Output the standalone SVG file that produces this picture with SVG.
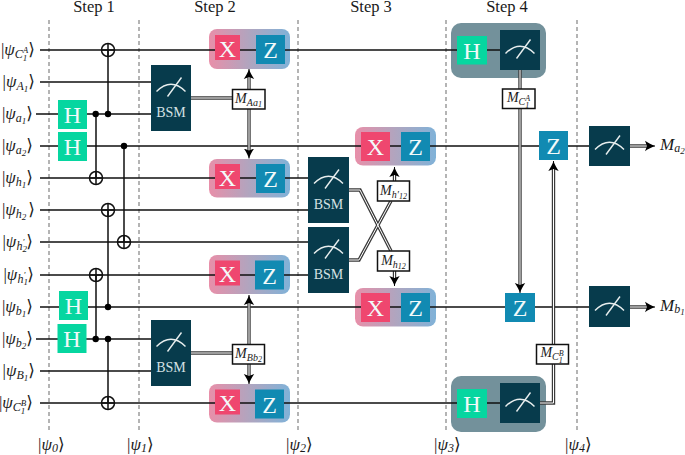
<svg xmlns="http://www.w3.org/2000/svg" width="685" height="455" viewBox="0 0 685 455">
<style>
text{font-family:"Liberation Serif","DejaVu Serif",serif;fill:#1a1a1a}
.st{font-size:16.5px;text-anchor:middle}
.k{font-size:17px;text-anchor:end}
.k0{font-size:17px;text-anchor:start}
.i{font-style:italic}
.s{font-size:12px;font-style:italic}
.ss{font-size:9px;font-style:italic}
.m{font-size:14px;font-style:italic;text-anchor:middle}
.m .s{font-size:10px}
.m .ss{font-size:8px}
.big{font-size:17px;font-style:italic}
.g{font-size:24px;text-anchor:middle;fill:#f2fafa}
.b{font-size:14px;text-anchor:middle;fill:#d5e2e4}
.w{stroke:#111;stroke-width:1.5;fill:none}
.dash{stroke:#777;stroke-width:1.1;stroke-dasharray:4 3;fill:none}
.c1{stroke:#3a3a3a;stroke-width:3.4;fill:none}
.c2{stroke:#fff;stroke-width:1;fill:none}
.tip{stroke:#111;stroke-width:1;fill:none;marker-end:url(#arrow)}
.X{fill:#ef476f}.Z{fill:#118ab2}.H{fill:#06d6a0}.D{fill:#073b4c}
.mb{fill:#fff;stroke:#111;stroke-width:1.5}
.pan{fill:url(#pg)}
.pan4{fill:#73919b}
.ctrl{fill:#000}
.icon{fill:none;stroke:#e8eeee;stroke-width:1.4}
.cn{fill:none;stroke:#111;stroke-width:1.5}
</style>
<defs>
<linearGradient id="pg"><stop offset="0" stop-color="#e88fa9"/><stop offset="0.5" stop-color="#b0a5bf"/><stop offset="1" stop-color="#80b2d8"/></linearGradient>
<marker id="arrow" viewBox="0 -6 11 12" refX="10" refY="0" markerWidth="11" markerHeight="12" markerUnits="userSpaceOnUse" orient="auto"><path d="M10,0C7,1 3,3 0,5.2L2,0L0,-5.2C3,-3 7,-1 10,0Z" fill="#000"/></marker>
<g id="meter" class="icon"><path d="M-14.5,3.5Q0,-11 14.5,3.5"/><path d="M-3.5,8.5L10.5,-10.5"/></g>
<g id="cnot" class="cn"><circle r="6.5"/><path d="M-6.5,0H6.5M0,-6.5V6.5"/></g>
</defs>

<g id="panels">
<rect class="pan" x="209" y="29" width="81" height="40" rx="8"/>
<rect class="pan" x="209" y="159" width="81" height="38.500" rx="8"/>
<rect class="pan" x="209" y="255" width="81" height="39" rx="8"/>
<rect class="pan" x="209" y="384" width="81" height="38.500" rx="8"/>
<rect class="pan" x="355" y="127" width="81" height="38.500" rx="8"/>
<rect class="pan" x="355" y="288" width="81" height="38.500" rx="8"/>
<rect class="pan4" x="451" y="23" width="95" height="55" rx="10"/>
<rect class="pan4" x="451" y="376" width="95" height="56" rx="10"/>
</g>

<g id="steps">
<path class="dash" d="M49,20V432M139,20V432M298,20V432M446,20V432M577,20V432"/>
</g>

<g id="connectors">
<path class="w" d="M40,50H500M40,82H151M36,114H151M40,146H589M40,178H308M40,210H308M40,242H308M40,275H308M40,307H589M36,339H151M40,371H151M40,403H500"/>
<path class="w" d="M108,50V114M96,114V178M124,146V242M108,210V307M96,275V339M108,339V403"/>
<g id="classical">
<path class="c1" d="M191,98H232M249,109V152M249,89V76"/>
<path class="c2" d="M191,98H232M249,109V152M249,89V76"/>
<path class="c1" d="M191,353H232M249,364V378M249,344V301"/>
<path class="c2" d="M191,353H232M249,364V378M249,344V301"/>
<path class="c1" d="M349,190H360L391,251M349,260H359L391,201M394.500,181V174M394.500,271V279"/>
<path class="c2" d="M349,190H360L391,251M349,260H359L391,201M394.500,181V174M394.500,271V279"/>
<path class="c1" d="M520,70V89M520,108V286"/>
<path class="c2" d="M520,70V89M520,108V286"/>
<path class="c1" d="M540,403H553.500V364M553.500,344V167"/>
<path class="c2" d="M540,403H553.500V364M553.500,344V167"/>
<path class="c1" d="M630,146H650M630,307H650"/>
<path class="c2" d="M630,146H650M630,307H650"/>
<path class="tip" d="M249,74V69"/>
<path class="tip" d="M249,153V158.500"/>
<path class="tip" d="M249,300V295"/>
<path class="tip" d="M249,378V384"/>
<path class="tip" d="M394.500,173V167"/>
<path class="tip" d="M394.500,280V286"/>
<path class="tip" d="M520,286V293"/>
<path class="tip" d="M553.500,167V161"/>
<path class="tip" d="M649,146H655"/>
<path class="tip" d="M649,307H655"/>
</g>
<g id="controls" class="ctrl">
<circle cx="95.700" cy="114" r="3.200"/><circle cx="108" cy="114" r="3.200"/><circle cx="124" cy="146" r="3.200"/>
<circle cx="108" cy="307" r="3.200"/><circle cx="95.700" cy="339" r="3.200"/><circle cx="108" cy="339" r="3.200"/>
</g>
<g id="targets">
<use href="#cnot" x="108" y="50"/><use href="#cnot" x="96" y="178"/><use href="#cnot" x="108" y="210"/>
<use href="#cnot" x="124" y="242"/><use href="#cnot" x="96" y="275"/><use href="#cnot" x="108" y="403"/>
</g>
</g>

<g id="H1"><rect class="H" x="58" y="100" width="29" height="29"/><text class="g" x="72.500" y="123">H</text></g>
<g id="H2"><rect class="H" x="58" y="132" width="29" height="29"/><text class="g" x="72.500" y="155">H</text></g>
<g id="H3"><rect class="H" x="59" y="291" width="29" height="29"/><text class="g" x="73.500" y="314">H</text></g>
<g id="H4"><rect class="H" x="57.500" y="324" width="29" height="29"/><text class="g" x="72" y="347">H</text></g>

<g id="BSM1"><rect class="D" x="151" y="65" width="40" height="66"/><use href="#meter" x="171" y="88"/><text class="b" x="171" y="117">BSM</text></g>
<g id="BSM2"><rect class="D" x="151" y="320" width="40" height="66"/><use href="#meter" x="171" y="343"/><text class="b" x="171" y="372">BSM</text></g>
<g id="BSM3"><rect class="D" x="308" y="157" width="41" height="66"/><use href="#meter" x="328.500" y="180"/><text class="b" x="328.500" y="209">BSM</text></g>
<g id="BSM4"><rect class="D" x="308" y="227" width="41" height="66"/><use href="#meter" x="328.500" y="250"/><text class="b" x="328.500" y="279">BSM</text></g>

<g id="X1"><rect class="X" x="215" y="35" width="25" height="25"/><text class="g" x="227.500" y="56.500">X</text></g>
<g id="Z1"><rect class="Z" x="256" y="35" width="29" height="29"/><text class="g" x="270.500" y="58">Z</text></g>
<g id="X2"><rect class="X" x="215" y="164" width="25" height="25"/><text class="g" x="227.500" y="185.500">X</text></g>
<g id="Z2"><rect class="Z" x="256" y="164" width="29" height="29"/><text class="g" x="270.500" y="187">Z</text></g>
<g id="X3"><rect class="X" x="215" y="260.500" width="25" height="25"/><text class="g" x="227.500" y="282">X</text></g>
<g id="Z3"><rect class="Z" x="255" y="260.500" width="29" height="29"/><text class="g" x="269.500" y="283.500">Z</text></g>
<g id="X4"><rect class="X" x="215" y="389.500" width="25" height="25"/><text class="g" x="227.500" y="411">X</text></g>
<g id="Z4"><rect class="Z" x="255" y="389.500" width="29" height="29"/><text class="g" x="269.500" y="412.500">Z</text></g>
<g id="X5"><rect class="X" x="361" y="132" width="29" height="29"/><text class="g" x="375.500" y="155">X</text></g>
<g id="Z5"><rect class="Z" x="401" y="132" width="29" height="29"/><text class="g" x="415.500" y="155">Z</text></g>
<g id="X6"><rect class="X" x="361" y="293" width="29" height="29"/><text class="g" x="375.500" y="316">X</text></g>
<g id="Z6"><rect class="Z" x="401" y="293" width="29" height="29"/><text class="g" x="415.500" y="316">Z</text></g>

<g id="H5"><rect class="H" x="457" y="36" width="30" height="28.500"/><text class="g" x="472" y="59">H</text></g>
<g id="M1"><rect class="D" x="500" y="30" width="40" height="40"/><use href="#meter" x="520" y="50"/></g>
<g id="H6"><rect class="H" x="457" y="389" width="30" height="29"/><text class="g" x="472" y="412">H</text></g>
<g id="M2"><rect class="D" x="500" y="383" width="40" height="40"/><use href="#meter" x="520" y="403"/></g>
<g id="Z7"><rect class="Z" x="539" y="131" width="29" height="29"/><text class="g" x="553.500" y="154">Z</text></g>
<g id="Z8"><rect class="Z" x="505" y="293" width="30" height="29"/><text class="g" x="520" y="316">Z</text></g>
<g id="M3"><rect class="D" x="589" y="126" width="41" height="40"/><use href="#meter" x="609.500" y="146"/></g>
<g id="M4"><rect class="D" x="589" y="286" width="41" height="41"/><use href="#meter" x="609.500" y="307"/></g>

<g id="mAa"><rect class="mb" x="232.500" y="89.500" width="32.500" height="19.500"/><text class="m" x="248.500" y="103">M<tspan class="s" dy="2.500">Aa</tspan><tspan class="ss" dy="1.500">1</tspan></text></g>
<g id="mBb"><rect class="mb" x="232.500" y="344.500" width="32" height="19.500"/><text class="m" x="248.500" y="358">M<tspan class="s" dy="2.500">Bb</tspan><tspan class="ss" dy="1.500">2</tspan></text></g>
<g id="mh2"><rect class="mb" x="377.500" y="181" width="32" height="20"/><text class="m" x="393.500" y="195">M<tspan class="s" dy="2.500">h′</tspan><tspan class="ss" dy="1.500">12</tspan></text></g>
<g id="mh1"><rect class="mb" x="377.500" y="251" width="32" height="20"/><text class="m" x="393.500" y="265">M<tspan class="s" dy="2.500">h</tspan><tspan class="ss" dy="1.500">12</tspan></text></g>
<g id="mCA"><rect class="mb" x="502.500" y="89" width="32.500" height="19.500"/><text class="m" x="518.500" y="102">M<tspan class="s" dy="2.500">C</tspan><tspan class="ss" dy="3">1</tspan><tspan class="ss" dx="-4" dy="-7">A</tspan></text></g>
<g id="mCB"><rect class="mb" x="536.500" y="344.500" width="32" height="19.500"/><text class="m" x="552" y="357">M<tspan class="s" dy="2.500">C</tspan><tspan class="ss" dy="3">1</tspan><tspan class="ss" dx="-4" dy="-7">B</tspan></text></g>

<g id="labels">
<text class="st" x="94" y="12">Step 1</text>
<text class="st" x="215" y="12">Step 2</text>
<text class="st" x="371" y="12">Step 3</text>
<text class="st" x="507" y="12">Step 4</text>
<text class="k" x="35" y="55">|<tspan class="i">ψ</tspan><tspan class="s" dy="3">C</tspan><tspan class="ss" dy="3">1</tspan><tspan class="ss" dx="-4.500" dy="-8">A</tspan><tspan dy="2">⟩</tspan></text>
<text class="k" x="35" y="87">|<tspan class="i">ψ</tspan><tspan class="s" dy="3">A</tspan><tspan class="ss" dy="2">1</tspan><tspan dy="-5">⟩</tspan></text>
<text class="k" x="33" y="119">|<tspan class="i">ψ</tspan><tspan class="s" dy="3">a</tspan><tspan class="ss" dy="2">1</tspan><tspan dy="-5">⟩</tspan></text>
<text class="k" x="33" y="151">|<tspan class="i">ψ</tspan><tspan class="s" dy="3">a</tspan><tspan class="ss" dy="2">2</tspan><tspan dy="-5">⟩</tspan></text>
<text class="k" x="33" y="183">|<tspan class="i">ψ</tspan><tspan class="s" dy="3">h</tspan><tspan class="ss" dy="2">1</tspan><tspan dy="-5">⟩</tspan></text>
<text class="k" x="35" y="215">|<tspan class="i">ψ</tspan><tspan class="s" dy="3">h</tspan><tspan class="ss" dy="2">2</tspan><tspan dx="2" dy="-5">⟩</tspan></text>
<text class="k" x="33" y="247">|<tspan class="i">ψ</tspan><tspan class="s" dy="3">h</tspan><tspan class="ss" dy="2">2</tspan><tspan class="ss" dx="-4.500" dy="-7">′</tspan><tspan dx="2" dy="2">⟩</tspan></text>
<text class="k" x="34" y="280">|<tspan class="i">ψ</tspan><tspan class="s" dy="3">h</tspan><tspan class="ss" dy="2">1</tspan><tspan class="ss" dx="-4.500" dy="-7">′</tspan><tspan dx="2" dy="2">⟩</tspan></text>
<text class="k" x="33" y="312">|<tspan class="i">ψ</tspan><tspan class="s" dy="3">b</tspan><tspan class="ss" dy="2">1</tspan><tspan dy="-5">⟩</tspan></text>
<text class="k" x="33" y="344">|<tspan class="i">ψ</tspan><tspan class="s" dy="3">b</tspan><tspan class="ss" dy="2">2</tspan><tspan dy="-5">⟩</tspan></text>
<text class="k" x="35" y="376">|<tspan class="i">ψ</tspan><tspan class="s" dy="3">B</tspan><tspan class="ss" dy="2">1</tspan><tspan dy="-5">⟩</tspan></text>
<text class="k" x="33" y="408">|<tspan class="i">ψ</tspan><tspan class="s" dy="3">C</tspan><tspan class="ss" dy="3">1</tspan><tspan class="ss" dx="-4.500" dy="-8">B</tspan><tspan dy="2">⟩</tspan></text>
<text class="k0" x="38" y="450">|<tspan class="i">ψ</tspan><tspan class="s" dy="1.500">0</tspan><tspan dy="-1.500">⟩</tspan></text>
<text class="k0" x="127" y="450">|<tspan class="i">ψ</tspan><tspan class="s" dy="1.500">1</tspan><tspan dy="-1.500">⟩</tspan></text>
<text class="k0" x="286" y="450">|<tspan class="i">ψ</tspan><tspan class="s" dy="1.500">2</tspan><tspan dy="-1.500">⟩</tspan></text>
<text class="k0" x="434" y="450">|<tspan class="i">ψ</tspan><tspan class="s" dy="1.500">3</tspan><tspan dy="-1.500">⟩</tspan></text>
<text class="k0" x="565" y="450">|<tspan class="i">ψ</tspan><tspan class="s" dy="1.500">4</tspan><tspan dy="-1.500">⟩</tspan></text>
<text class="big" x="660" y="150">M<tspan class="s" dy="2">a</tspan><tspan class="ss" dy="1.500">2</tspan></text>
<text class="big" x="660" y="311">M<tspan class="s" dy="2">b</tspan><tspan class="ss" dy="1.500">1</tspan></text>
</g>
</svg>
